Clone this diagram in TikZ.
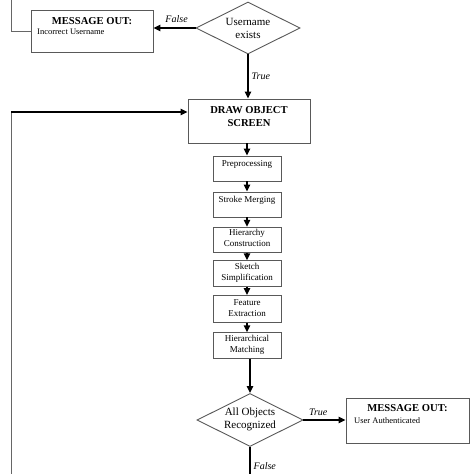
\documentclass[tikz,border=0pt]{standalone}
\usepackage{fontspec}
\setmainfont{Liberation Serif}
\usetikzlibrary{shapes.geometric,arrows.meta,calc}
\begin{document}
\begin{tikzpicture}[x=1pt,y=-1pt,
  box/.style={draw=black!65,line width=0.9pt,rectangle,inner sep=0pt},
  small/.style={box,minimum width=68pt},
  dec/.style={draw=black!65,line width=0.9pt,diamond,inner sep=0pt},
  dtxt/.style={align=center,inner sep=0pt,font=\fontsize{11}{13}\selectfont},
  arr/.style={line width=1.4pt,-{Triangle[length=7pt,width=6.5pt]}},
  plain/.style={line width=1.4pt},
  thin/.style={draw=black!60,line width=0.9pt},
  lbl/.style={font=\fontsize{10}{12}\selectfont\itshape,inner sep=0pt},
  stxt/.style={font=\fontsize{9}{11}\selectfont,align=center,inner sep=0pt,anchor=north},
  btxt/.style={font=\fontsize{10.6}{13}\selectfont\bfseries,align=center,inner sep=0pt},
  mtxt/.style={font=\fontsize{8.5}{10}\selectfont,inner sep=0pt,anchor=west}]
\useasboundingbox (0,0) rectangle (474,474);

% top part
\node[box,minimum width=122pt,minimum height=42pt] (msg1) at (92,31) {};
\node[btxt] (msg1t) at (92,21) {MESSAGE OUT:};
\node[mtxt] (msg1s) at (37,32) {Incorrect Username};

\node[dec,minimum width=104pt,minimum height=52pt] (d1) at (248,28) {};
\node[dtxt] (d1t) at (248,28.5) {Username\\exists};

\node[box,minimum width=122pt,minimum height=44pt] (draw) at (249,121) {};
\node[btxt] (drawt) at (249,116.5) {DRAW OBJECT\\SCREEN};

% chain of small boxes
\node[small,minimum height=25pt] (p1) at (247,168.5) {};
\node[stxt] at (247,160.5) {Preprocessing};
\node[small,minimum height=25pt] (p2) at (247,204.5) {};
\node[stxt] at (247,196.5) {Stroke Merging};
\node[small,minimum height=25.5pt] (p3) at (247,240) {};
\node[stxt] at (247,229.5) {Hierarchy\\Construction};
\node[small,minimum height=25.5pt] (p4) at (247,273.5) {};
\node[stxt] at (247,263.5) {Sketch\\Simplification};
\node[small,minimum height=27pt] (p5) at (247,309) {};
\node[stxt] at (247,299.5) {Feature\\Extraction};
\node[small,minimum height=25.5pt] (p6) at (247,345.5) {};
\node[stxt] at (247,335.5) {Hierarchical\\Matching};

\node[dec,minimum width=106pt,minimum height=53pt] (d2) at (250,420) {};
\node[dtxt] (d2t) at (250,419.5) {All Objects\\Recognized};

\node[box,minimum width=123pt,minimum height=45pt] (msg2) at (407.5,420.5) {};
\node[btxt] (msg2t) at (407.5,408.5) {MESSAGE OUT:};
\node[mtxt] (msg2s) at (354,421) {User Authenticated};

% coordinates
\coordinate (tl0) at (11,0);
\coordinate (tl1) at (11,31);
\coordinate (lp0) at (11,474);
\coordinate (lp1) at (11,112);
\coordinate (bot) at (250,474);

% connectors
\draw[thin] (tl0) -- (tl1) -- (msg1.west |- tl1);
\draw[arr] (d1.west) -- (msg1.east |- d1.west) node[lbl,pos=0.45,above=5pt] {False};
\draw[arr] (d1.south) -- (d1.south |- draw.north) node[lbl,midway,right=3pt] {True};
\draw[thin] (lp0) -- (lp1);
\draw[arr] (lp1) -- (draw.west |- lp1);
\draw[arr] (draw.south -| p1.north) -- (p1.north);
\draw[arr] (p1.south) -- (p2.north);
\draw[arr] (p2.south) -- (p3.north);
\draw[arr] (p3.south) -- (p4.north);
\draw[arr] (p4.south) -- (p5.north);
\draw[arr] (p5.south) -- (p6.north);
\draw[arr] (p6.south -| d2.north) -- (d2.north);
\draw[arr] (d2.east) -- (msg2.west |- d2.east) node[lbl,pos=0.35,above=4pt] {True};
\draw[plain] (d2.south) -- (bot) node[lbl,pos=0.7,right=3pt] {False};
\end{tikzpicture}
\end{document}
